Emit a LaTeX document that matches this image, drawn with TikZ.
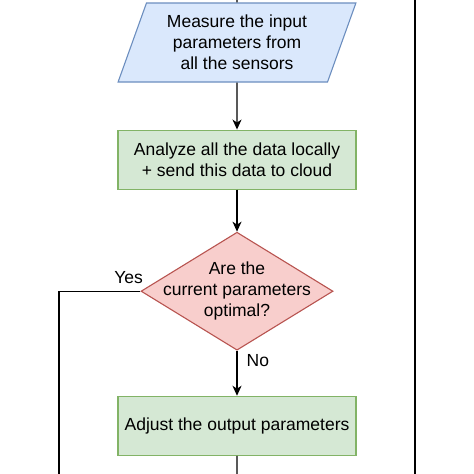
\documentclass[tikz,border=0pt]{standalone}
\usepackage{fontspec}
\setmainfont{Liberation Sans}
\usetikzlibrary{shapes.geometric,arrows.meta,positioning}
\definecolor{ioFill}{HTML}{DAE8FC}
\definecolor{ioLine}{HTML}{6C8EBF}
\definecolor{procFill}{HTML}{D5E8D4}
\definecolor{procLine}{HTML}{82B366}
\definecolor{decFill}{HTML}{F8CECC}
\definecolor{decLine}{HTML}{B85450}
\begin{document}
\begin{tikzpicture}[x=1pt, y=1pt, line width=1.3pt, >={Stealth[length=10pt,width=9pt,inset=3pt]},
    font=\fontsize{17.5}{21}\selectfont,
    io/.style={trapezium, trapezium left angle=69, trapezium right angle=111, trapezium stretches=true,
        minimum width=238pt, minimum height=79pt, fill=ioFill, draw=ioLine, line width=1.1pt, align=center, inner sep=2pt},
    process/.style={rectangle, minimum width=238pt, minimum height=59pt, fill=procFill, draw=procLine,
        line width=1.1pt, align=center, inner sep=2pt},
    decision/.style={diamond, minimum width=192pt, minimum height=118pt, fill=decFill, draw=decLine,
        line width=1.1pt, inner sep=0pt}]
            \useasboundingbox (0,0) rectangle (474,-474);
            \node[io](measure) at (237,-42.5) {Measure the input\\parameters from\\all the sensors};
            \node[process](analyze)[below=47pt of measure] {Analyze all the data locally\\+ send this data to cloud};
            \node[decision, label={[align=center]center:Are the\\current parameters\\optimal?}](check)[below=42pt of analyze] {};
            \node[process](adjust)[below=45pt of check] {Adjust the output parameters};
            \coordinate (top) at (237,0);
            \coordinate (yesend) at (59,-474);
            \coordinate (adjustend) at (237,-474);
            \coordinate (backtop) at (415,0);
            \coordinate (backend) at (415,-474);
            \draw (top) -- (measure);
            \path[->]
                (measure) edge (analyze)
                (analyze) edge (check)
                (check) edge node[pos=0, anchor=north west, xshift=9pt, yshift=-3pt, inner sep=0pt] {No} (adjust);
            \draw (check.west) -| (yesend);
            \node[anchor=south east, inner sep=0pt, xshift=3pt, yshift=7pt](yes) at (check.west) {Yes};
            \draw (adjust) -- (adjustend);
            \draw (backtop) -- (backend);
        \end{tikzpicture}
\end{document}
